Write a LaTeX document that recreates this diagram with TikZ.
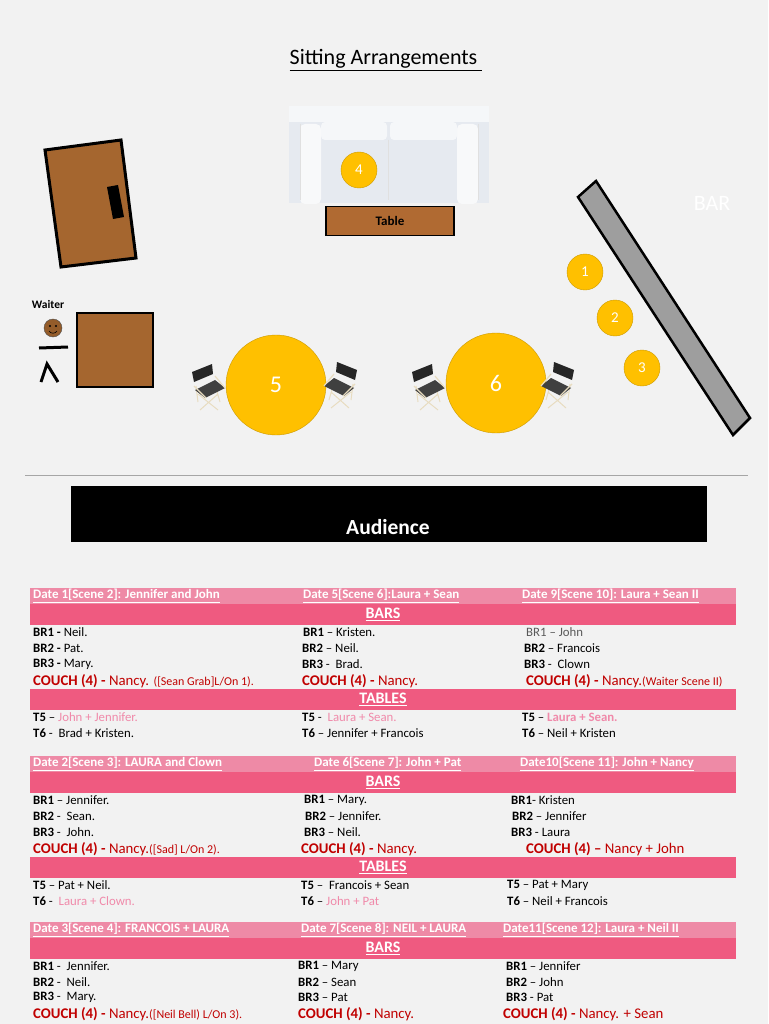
\documentclass[tikz,border=0pt]{standalone}
\usepackage{fontspec}
\setmainfont{Carlito}
\definecolor{bg}{HTML}{F2F2F2}
\definecolor{wood}{HTML}{A5662F}
\definecolor{woodb}{HTML}{B06A32}
\definecolor{gold}{HTML}{FFC000}
\definecolor{hdr}{HTML}{EE8AA6}
\definecolor{bar}{HTML}{EF5A80}
\definecolor{dred}{HTML}{C00000}
\definecolor{pk}{HTML}{F08AAA}
\definecolor{sofa}{HTML}{E6EAF0}
\definecolor{bisque}{HTML}{E8DCC0}
\tikzset{
 seat/.style={circle,fill=gold,draw=gold!80!black,text=white,inner sep=0pt},
 txt/.style={anchor=west,inner sep=0pt,font=\fontsize{12.8}{14}\selectfont},
 ctxt/.style={anchor=west,inner sep=0pt,font=\fontsize{14.8}{16}\selectfont,text=dred},
 hd/.style={anchor=west,inner sep=0pt,text=white,font=\bfseries\fontsize{13}{14}\selectfont},
 band/.style={text=white,font=\bfseries\fontsize{16}{17}\selectfont}
}
\newcommand{\chairR}[2]{%
 \begin{scope}[shift={(#1,#2)}]
  \draw[line width=1pt,bisque] (-12,4)--(8,20) (8,4)--(-10,20) (-14,-4)--(-12,12) (6,-2)--(10,12);
  \fill[black!85] (-18,-18)--(2,-26)--(3,-16)--(-16,-8)--cycle;
  \fill[black!75] (-15,0)--(5,-10)--(15,-2)--(-5,8)--cycle;
  \draw[line width=1.2pt,bisque] (-16,-4)--(-4,8) (5,-14)--(15,-2);
 \end{scope}}
\newcommand{\rowline}[4]{\node[txt] at (#1,#2) {\textbf{#3}#4};}
\begin{document}
\begin{tikzpicture}[x=1pt,y=-1pt]
\fill[bg] (0,0) rectangle (768,1024);
\useasboundingbox (0,0) rectangle (768,1024);
\node[font=\fontsize{22}{24}\selectfont] (title) at (386,60) {\underline{Sitting Arrangements\ }};
% door
\filldraw[fill=wood,draw=black,line width=3pt] (45,150)--(121,140)--(136,258)--(61,267)--cycle;
\fill[black] (107,187)--(118,185)--(124,217)--(113,219)--cycle;
% sofa
\fill[sofa] (289,106) rectangle (489,203);
\fill[white!60!sofa] (289,106) rectangle (489,122);
\fill[white!70!sofa,rounded corners=5pt] (300,124) rectangle (321,204);
\fill[white!70!sofa,rounded corners=5pt] (457,124) rectangle (478,204);
\fill[white!60!sofa,rounded corners=4pt] (321,122) rectangle (387,140);
\fill[white!60!sofa,rounded corners=4pt] (390,122) rectangle (457,140);
\draw[black!12] (388,140)--(388,200) (300,124)--(300,200) (478,124)--(478,200);
\node[seat,minimum size=36pt,font=\fontsize{15}{15}\selectfont] (s4) at (359,170) {4};
\node[draw=black,line width=1.2pt,fill=woodb,minimum width=128pt,minimum height=29pt,font=\bfseries\fontsize{13}{13}\selectfont] (ctable) at (390,221) {Table};
% bar
\filldraw[fill=black!38,draw=black,line width=2.5pt] (578,197)--(596,181)--(750,418)--(733,435)--cycle;
\node[text=white,font=\fontsize{22}{22}\selectfont] (barlbl) at (712,203) {BAR};
\node[seat,minimum size=36pt,font=\fontsize{15}{15}\selectfont] (s1) at (585,272) {1};
\node[seat,minimum size=36pt,font=\fontsize{15}{15}\selectfont] (s2) at (615,318) {2};
\node[seat,minimum size=36pt,font=\fontsize{15}{15}\selectfont] (s3) at (642,368) {3};
% waiter
\node[font=\bfseries\fontsize{11.5}{12}\selectfont] (waiter) at (48,305) {Waiter};
\filldraw[fill=wood!90!black,draw=black!70] (53,328) circle (9);
\fill[black] (50,326) circle (1.2) (56,326) circle (1.2);
\draw[black,line width=0.6pt] (49,331) .. controls (51,334) and (55,334) .. (57,331);
\draw[line width=3pt] (39,348)--(68,347);
\draw[line width=3pt] (41,382)--(47,364)--(58,382);
\filldraw[fill=wood,draw=black,line width=1.8pt] (77,313) rectangle (153,387);
% tables 5 & 6
\node[seat,minimum size=100pt,font=\fontsize{24}{24}\selectfont] (t5) at (276,385) {5};
\node[seat,minimum size=100pt,font=\fontsize{24}{24}\selectfont] (t6) at (496,383) {6};
\chairR{210}{390}
\begin{scope}[xscale=-1,shift={(-678,0)}]\chairR{339}{388}\end{scope}
\chairR{430}{390}
\begin{scope}[xscale=-1,shift={(-1112,0)}]\chairR{556}{388}\end{scope}
% divider and audience
\draw[black!35,line width=1pt] (25,475)--(748,475);
\fill[black] (71,486) rectangle (707,542);
\node[text=white,font=\bfseries\fontsize{21.5}{22}\selectfont] (aud) at (388,527) {Audience};
% ===== block 1
\fill[hdr] (30,588) rectangle (736,604);
\fill[bar] (30,604) rectangle (736,625);
\fill[bar] (30,689) rectangle (736,710);
\node[hd] at (33,596) {\underline{Date 1[Scene 2]: Jennifer and John}};
\node[hd] at (303,596) {\underline{Date 5[Scene 6]:Laura + Sean}};
\node[hd] at (522,596) {\underline{Date 9[Scene 10]: Laura + Sean II}};
\node[band] at (383,614) {\underline{BARS}};
\node[band] at (383,699) {\underline{TABLES}};
\rowline{33}{632}{BR1 -}{ Neil.}
\rowline{33}{648}{BR2 -}{ Pat.}
\rowline{33}{664}{BR3 -}{ Mary.}
\node[ctxt] at (33,681) {\textbf{COUCH (4) -} Nancy. {\fontsize{12}{13}\selectfont([Sean Grab]L/On 1).}};
\rowline{303}{632}{BR1}{ – Kristen.}
\rowline{302}{648}{BR2}{ – Neil.}
\rowline{302}{664}{BR3}{ -\ \ Brad.}
\node[ctxt] at (302,681) {\textbf{COUCH (4) -} Nancy.};
\node[txt,text=black!65] at (526,632) {BR1 – John};
\rowline{524}{648}{BR2}{ – Francois}
\rowline{524}{664}{BR3}{ -\ \ Clown}
\node[ctxt] at (526,681) {\textbf{COUCH (4) -} Nancy.{\fontsize{12}{13}\selectfont(Waiter Scene II)}};
\node[txt] at (33,717) {\textbf{T5} – \textcolor{pk}{John + Jennifer.}};
\node[txt] at (33,733) {\textbf{T6} -\ \ Brad + Kristen.};
\node[txt] at (302,717) {\textbf{T5} -\ \ \textcolor{pk}{Laura + Sean.}};
\node[txt] at (302,733) {\textbf{T6} – Jennifer + Francois};
\node[txt] at (522,717) {\textbf{T5} – \textcolor{pk}{\textbf{Laura + Sean.}}};
\node[txt] at (522,733) {\textbf{T6} – Neil + Kristen};
% ===== block 2
\fill[hdr] (30,756) rectangle (736,772);
\fill[bar] (30,772) rectangle (736,793);
\fill[bar] (30,857) rectangle (736,878);
\node[hd] at (33,764) {\underline{Date 2[Scene 3]: LAURA and Clown}};
\node[hd] at (314,764) {\underline{Date 6[Scene 7]: John + Pat}};
\node[hd] at (520,764) {\underline{Date10[Scene 11]: John + Nancy}};
\node[band] at (383,782) {\underline{BARS}};
\node[band] at (383,867) {\underline{TABLES}};
\rowline{33}{800}{BR1}{ – Jennifer.}
\rowline{33}{816}{BR2}{ -\ \ Sean.}
\rowline{33}{832}{BR3}{ -\ \ John.}
\node[ctxt] at (33,849) {\textbf{COUCH (4) -} Nancy.{\fontsize{12}{13}\selectfont([Sad] L/On 2).}};
\rowline{304}{800}{BR1}{ – Mary.}
\rowline{305}{816}{BR2}{ – Jennifer.}
\rowline{304}{832}{BR3}{ – Neil.}
\node[ctxt] at (301,849) {\textbf{COUCH (4) -} Nancy.};
\rowline{511}{800}{BR1}{- Kristen}
\rowline{512}{816}{BR2}{ – Jennifer}
\rowline{511}{832}{BR3}{ - Laura}
\node[ctxt] at (526,849) {\textbf{COUCH (4) –} Nancy + John};
\node[txt] at (33,885) {\textbf{T5} – Pat + Neil.};
\node[txt] at (33,901) {\textbf{T6} -\ \ \textcolor{pk}{Laura + Clown.}};
\node[txt] at (301,885) {\textbf{T5} –\ \ Francois + Sean};
\node[txt] at (301,901) {\textbf{T6} – \textcolor{pk}{John + Pat}};
\node[txt] at (507,885) {\textbf{T5} – Pat + Mary};
\node[txt] at (507,901) {\textbf{T6} – Neil + Francois};
% ===== block 3
\fill[hdr] (30,922) rectangle (736,938);
\fill[bar] (30,938) rectangle (736,959);
\node[hd] at (33,930) {\underline{Date 3[Scene 4]: FRANCOIS + LAURA}};
\node[hd] at (301,930) {\underline{Date 7[Scene 8]: NEIL + LAURA}};
\node[hd] at (503,930) {\underline{Date11[Scene 12]: Laura + Neil II}};
\node[band] at (383,948) {\underline{BARS}};
\rowline{33}{966}{BR1}{ -\ \ Jennifer.}
\rowline{33}{982}{BR2}{ -\ \ Neil.}
\rowline{33}{997}{BR3}{ -\ \ Mary.}
\node[ctxt] at (33,1014) {\textbf{COUCH (4) -} Nancy.{\fontsize{12}{13}\selectfont([Neil Bell) L/On 3).}};
\rowline{298}{966}{BR1}{ – Mary}
\rowline{298}{982}{BR2}{ – Sean}
\rowline{298}{997}{BR3}{ – Pat}
\node[ctxt] at (298,1014) {\textbf{COUCH (4) -} Nancy.};
\rowline{506}{966}{BR1}{ – Jennifer}
\rowline{506}{982}{BR2}{ – John}
\rowline{506}{997}{BR3}{ - Pat}
\node[ctxt] at (503,1014) {\textbf{COUCH (4) -} Nancy. + Sean};
\end{tikzpicture}
\end{document}
